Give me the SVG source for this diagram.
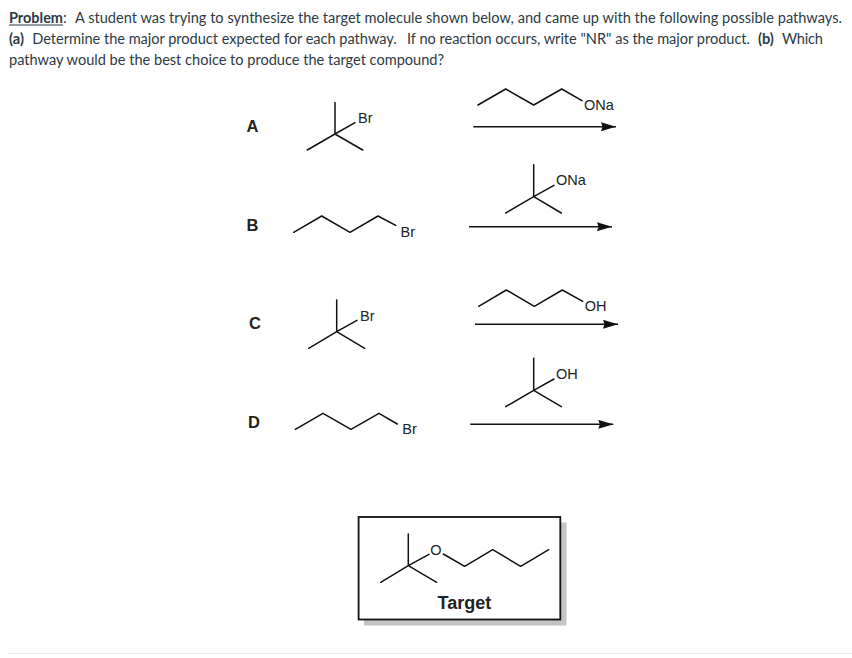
<svg xmlns="http://www.w3.org/2000/svg" width="852" height="658" viewBox="0 0 852 658">
<defs>
<marker id="ah" markerUnits="userSpaceOnUse" markerWidth="15" markerHeight="9" refX="15" refY="4.5" orient="auto"><path d="M0 0L15 4.5L0 9L1.5 4.5Z" fill="#111"/></marker>
</defs>
<style>
.h{font-family:Lato,"Liberation Sans",sans-serif;font-size:14.6px;fill:#2d3b45}
.b{font-weight:700}
.c{font-family:"Liberation Sans",Arial,sans-serif;font-size:14.5px;fill:#222}
.l{font-family:"Liberation Sans",Arial,sans-serif;font-size:16.5px;font-weight:700;fill:#222}
.m{fill:none;stroke:#111;stroke-width:1.5;stroke-linecap:round;stroke-linejoin:round}
.a{fill:none;stroke:#111;stroke-width:1.5;marker-end:url(#ah)}
</style>
<rect width="852" height="658" fill="#fff"/>
<g id="problem-text">
<text class="h b" x="9" y="23" textLength="54" lengthAdjust="spacingAndGlyphs">Problem</text>
<text class="h" x="63" y="23">:</text>
<text class="h" x="75" y="23" textLength="767" lengthAdjust="spacing">A student was trying to synthesize the target molecule shown below, and came up with the following possible pathways.</text>
<line x1="9" y1="25" x2="63" y2="25" stroke="#2d3b45" stroke-width="1"/>
<text class="h b" x="9" y="44">(a)</text>
<text class="h" x="32.3" y="44" textLength="364.4" lengthAdjust="spacing">Determine the major product expected for each pathway.</text>
<text class="h" x="407" y="44" textLength="343" lengthAdjust="spacing">If no reaction occurs, write "NR" as the major product.</text>
<text class="h b" x="758" y="44">(b)</text>
<text class="h" x="782" y="44" textLength="41" lengthAdjust="spacing">Which</text>
<text class="h" x="9" y="65" textLength="435" lengthAdjust="spacing">pathway would be the best choice to produce the target compound?</text>
</g>
<g id="label-a"><text class="l" x="246.5" y="131.5">A</text></g>
<g id="label-b"><text class="l" x="246.5" y="230.5">B</text></g>
<g id="label-c"><text class="l" x="249" y="329">C</text></g>
<g id="label-d"><text class="l" x="248" y="428">D</text></g>
<g id="substrate-a">
<path class="m" d="M335 102.5V134M307.3 150L335 134L362.7 150M335 134L355 122.7"/>
<text class="c" x="358" y="122.5">Br</text>
</g>
<g id="substrate-b">
<path class="m" d="M293.7 232.3L321.7 216L350 232.3L378 216L395.7 225.3"/>
<text class="c" x="400.5" y="236.5">Br</text>
</g>
<g id="substrate-c">
<path class="m" d="M336.7 300V331.7M308.7 348.3L336.7 331.7L364.7 348.3M336.7 331.7L357 320.3"/>
<text class="c" x="360" y="320.7">Br</text>
</g>
<g id="substrate-d">
<path class="m" d="M295.3 429.3L323 413.3L351 429.3L379 413.3L397.3 424"/>
<text class="c" x="402.3" y="434.3">Br</text>
</g>
<g id="reagent-a">
<path class="m" d="M478 105L505.7 89L533.7 105L561.7 89L582 100.7"/>
<text class="c" x="584" y="110">ONa</text>
</g>
<g id="reagent-b">
<path class="m" d="M533.7 164.7V196.7M505.7 213L533.7 196.7L561.3 213M533.7 196.7L554 185.3"/>
<text class="c" x="556" y="185.3">ONa</text>
</g>
<g id="reagent-c">
<path class="m" d="M478.7 306.3L506.3 290L534.3 306.3L562.3 290L582.7 301.3"/>
<text class="c" x="584.7" y="311">OH</text>
</g>
<g id="reagent-d">
<path class="m" d="M533.7 358.3V390.3M505.7 406.7L533.7 390.3L561.3 406.7M533.7 390.3L554 379"/>
<text class="c" x="556" y="378.7">OH</text>
</g>
<g id="connectors">
<line class="a" x1="473.3" y1="126.7" x2="616" y2="126.7"/>
<line class="a" x1="469" y1="226.7" x2="612" y2="226.7"/>
<line class="a" x1="475" y1="324.3" x2="618" y2="324.3"/>
<line class="a" x1="470.3" y1="424.3" x2="613.3" y2="424.3"/>
</g>
<g id="target">
<rect x="364" y="522.5" width="202.5" height="103" fill="#c4c4c4"/>
<rect x="358.6" y="517" width="201.7" height="102.5" fill="#fff" stroke="#111" stroke-width="1.8"/>
<path class="m" d="M408.3 534V565.7M380.7 582.3L408.3 565.7L436.7 582.3M408.3 565.7L429 554.3M443.3 554L464.7 566.3L492.7 549.7L520.7 566.3L548.7 549.7"/>
<text class="c" x="430.2" y="554.5">O</text>
<text class="l" x="437.5" y="609" style="font-size:18px">Target</text>
</g>
<line id="rule" x1="8" y1="653.5" x2="852" y2="653.5" stroke="#e6e9ee" stroke-width="1"/>
</svg>
